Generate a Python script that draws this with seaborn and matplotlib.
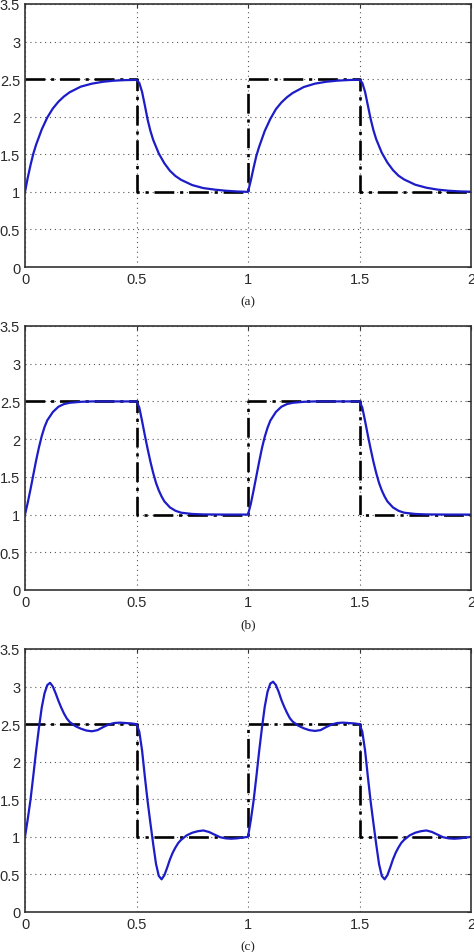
import matplotlib
matplotlib.use("Agg")
import matplotlib.pyplot as plt
import seaborn as sns
import pandas as pd

# ---------------- data ----------------
ref_t = [0.0, 0.5, 0.5, 1.0, 1.0, 1.5, 1.5, 2.0]
ref_y = [2.5, 2.5, 1.0, 1.0, 2.5, 2.5, 1.0, 1.0]

ta = [0.0, 0.0125, 0.025, 0.0375, 0.05, 0.075, 0.1, 0.125, 0.15, 0.175, 0.2, 0.25, 0.3, 0.35, 0.4, 0.45,
      0.5, 0.5125, 0.525, 0.5375, 0.55, 0.5625, 0.575, 0.6, 0.625, 0.65, 0.675, 0.7, 0.75, 0.8, 0.85, 0.9, 0.95,
      1.0, 1.0125, 1.025, 1.0375, 1.05, 1.075, 1.1, 1.125, 1.15, 1.175, 1.2, 1.25, 1.3, 1.35, 1.4, 1.45,
      1.5, 1.5125, 1.525, 1.5375, 1.55, 1.5625, 1.575, 1.6, 1.625, 1.65, 1.675, 1.7, 1.75, 1.8, 1.85, 1.9, 1.95,
      2.0]
ya = [1.00, 1.19, 1.36, 1.51, 1.63, 1.83, 1.99, 2.11, 2.20, 2.27, 2.325, 2.40, 2.44, 2.465, 2.48, 2.487,
      2.49, 2.45, 2.33, 2.15, 1.96, 1.81, 1.69, 1.51, 1.38, 1.28, 1.21, 1.16, 1.09, 1.05, 1.03, 1.015, 1.005,
      1.00, 1.15, 1.32, 1.48, 1.60, 1.81, 1.97, 2.10, 2.19, 2.26, 2.315, 2.395, 2.44, 2.465, 2.48, 2.488,
      2.492, 2.45, 2.33, 2.15, 1.97, 1.82, 1.70, 1.52, 1.39, 1.29, 1.215, 1.165, 1.095, 1.055, 1.03, 1.015, 1.006,
      1.002]

tb = [0.0, 0.0125, 0.025, 0.0375, 0.05, 0.0625, 0.075, 0.0875, 0.1, 0.125, 0.15, 0.175, 0.2, 0.25, 0.3, 0.4,
      0.5, 0.5125, 0.525, 0.5375, 0.55, 0.5625, 0.575, 0.5875, 0.6, 0.6125, 0.625, 0.65, 0.675, 0.7, 0.75, 0.8, 0.9,
      1.0, 1.0125, 1.025, 1.0375, 1.05, 1.0625, 1.075, 1.0875, 1.1, 1.125, 1.15, 1.175, 1.2, 1.25, 1.3, 1.4,
      1.5, 1.5125, 1.525, 1.5375, 1.55, 1.5625, 1.575, 1.5875, 1.6, 1.6125, 1.625, 1.65, 1.675, 1.7, 1.75, 1.8, 1.9,
      2.0]
yb = [1.00, 1.16, 1.34, 1.53, 1.72, 1.89, 2.04, 2.16, 2.25, 2.36, 2.43, 2.465, 2.482, 2.495, 2.5, 2.5,
      2.5, 2.42, 2.24, 2.05, 1.87, 1.70, 1.55, 1.42, 1.32, 1.24, 1.175, 1.095, 1.05, 1.025, 1.008, 1.002, 1.0,
      1.00, 1.14, 1.32, 1.51, 1.70, 1.88, 2.03, 2.15, 2.245, 2.36, 2.43, 2.465, 2.482, 2.495, 2.5, 2.5,
      2.5, 2.42, 2.24, 2.05, 1.87, 1.70, 1.55, 1.42, 1.32, 1.24, 1.175, 1.095, 1.05, 1.025, 1.008, 1.002, 1.0,
      1.0]

tc = [0.0, 0.0125, 0.025, 0.0375, 0.05, 0.0625, 0.075, 0.0875, 0.1, 0.1125, 0.125, 0.1375, 0.15, 0.1625, 0.175,
      0.1875, 0.2, 0.225, 0.25, 0.275, 0.3, 0.325, 0.35, 0.375, 0.4, 0.425, 0.45, 0.475,
      0.5, 0.5125, 0.525, 0.5375, 0.55, 0.5625, 0.575, 0.5875, 0.6, 0.6125, 0.625, 0.6375, 0.65, 0.6625, 0.675,
      0.6875, 0.7, 0.725, 0.75, 0.775, 0.8, 0.825, 0.85, 0.875, 0.9, 0.925, 0.95, 0.975,
      1.0, 1.0125, 1.025, 1.0375, 1.05, 1.0625, 1.075, 1.0875, 1.1, 1.1125, 1.125, 1.1375, 1.15, 1.1625, 1.175,
      1.1875, 1.2, 1.225, 1.25, 1.275, 1.3, 1.325, 1.35, 1.375, 1.4, 1.425, 1.45, 1.475,
      1.5, 1.5125, 1.525, 1.5375, 1.55, 1.5625, 1.575, 1.5875, 1.6, 1.6125, 1.625, 1.6375, 1.65, 1.6625, 1.675,
      1.6875, 1.7, 1.725, 1.75, 1.775, 1.8, 1.825, 1.85, 1.875, 1.9, 1.925, 1.95, 1.975,
      2.0]
yc = [1.00, 1.24, 1.50, 1.82, 2.15, 2.45, 2.72, 2.91, 3.02, 3.05, 3.00, 2.91, 2.81, 2.72, 2.64,
      2.575, 2.53, 2.475, 2.44, 2.415, 2.405, 2.42, 2.46, 2.495, 2.515, 2.52, 2.515, 2.51,
      2.50, 2.40, 2.15, 1.80, 1.47, 1.18, 0.90, 0.64, 0.48, 0.435, 0.49, 0.59, 0.70, 0.79, 0.86,
      0.92, 0.96, 1.02, 1.055, 1.075, 1.085, 1.065, 1.03, 0.995, 0.98, 0.975, 0.98, 0.99,
      1.00, 1.22, 1.48, 1.80, 2.14, 2.45, 2.73, 2.93, 3.04, 3.065, 3.02, 2.93, 2.82, 2.73, 2.65,
      2.58, 2.535, 2.48, 2.445, 2.42, 2.41, 2.42, 2.46, 2.495, 2.515, 2.52, 2.515, 2.51,
      2.50, 2.40, 2.15, 1.80, 1.47, 1.18, 0.90, 0.64, 0.48, 0.435, 0.49, 0.59, 0.70, 0.79, 0.86,
      0.92, 0.96, 1.02, 1.055, 1.075, 1.085, 1.065, 1.03, 0.995, 0.98, 0.975, 0.98, 0.99,
      1.00]

captions = ["(a)", "(b)", "(c)"]
x_ticks = [0, 0.5, 1, 1.5, 2]
x_tick_labels = ["0", "0.5", "1", "1.5", "2"]
y_ticks = [0, 0.5, 1, 1.5, 2, 2.5, 3, 3.5]
y_tick_labels = ["0", "0.5", "1", "1.5", "2", "2.5", "3", "3.5"]

# ---------------- style ----------------
sns.set_theme(style="white")
plt.rcParams["font.family"] = ["Liberation Sans", "DejaVu Sans"]

W, H = 474, 953
fig = plt.figure(figsize=(W / 100, H / 100), dpi=100)

# axes boxes in pixels: (left, top, right, bottom)
boxes = [(25, 5, 471, 268), (25, 327, 471, 591), (25, 650, 471, 913)]
series = [(ta, ya), (tb, yb), (tc, yc)]

blue = "#1c1cc8"
spine_col = "#333333"
ref_df = pd.DataFrame({"t": ref_t, "y": ref_y})

for (l, t, r, b), (xs, ys), cap in zip(boxes, series, captions):
    ax = fig.add_axes([l / W, 1 - b / H, (r - l) / W, (b - t) / H])
    sns.lineplot(data=ref_df, x="t", y="y", ax=ax, estimator=None, sort=False,
                 color="black", linewidth=1.9, linestyle=(0, (7.5, 2.2, 1.2, 2.2)))
    df = pd.DataFrame({"t": xs, "y": ys})
    sns.lineplot(data=df, x="t", y="y", ax=ax, estimator=None, sort=False,
                 color=blue, linewidth=1.6)
    ax.set_xlim(0, 2)
    ax.set_ylim(0, 3.5)
    ax.set_xticks(x_ticks)
    ax.set_xticklabels(x_tick_labels)
    ax.set_yticks(y_ticks)
    ax.set_yticklabels(y_tick_labels)
    ax.set_xlabel("")
    ax.set_ylabel("")
    ax.grid(True, color="#555555", linestyle=(0, (1, 3.4)), linewidth=0.8)
    ax.set_axisbelow(True)
    ax.tick_params(direction="in", top=True, right=True, length=3, width=0.8,
                   color=spine_col, labelsize=10.5, labelcolor="#2a2a2a", pad=3.5)
    for sp in ax.spines.values():
        sp.set_color(spine_col)
        sp.set_linewidth(1.2)
        sp.set_visible(True)
    fig.text(((l + r) / 2) / W, 1 - (b + 34) / H, cap, ha="center", va="center",
             fontsize=9.5, family=["Liberation Serif", "DejaVu Serif"], color="#222222")

fig.savefig("out.png", dpi=100)
